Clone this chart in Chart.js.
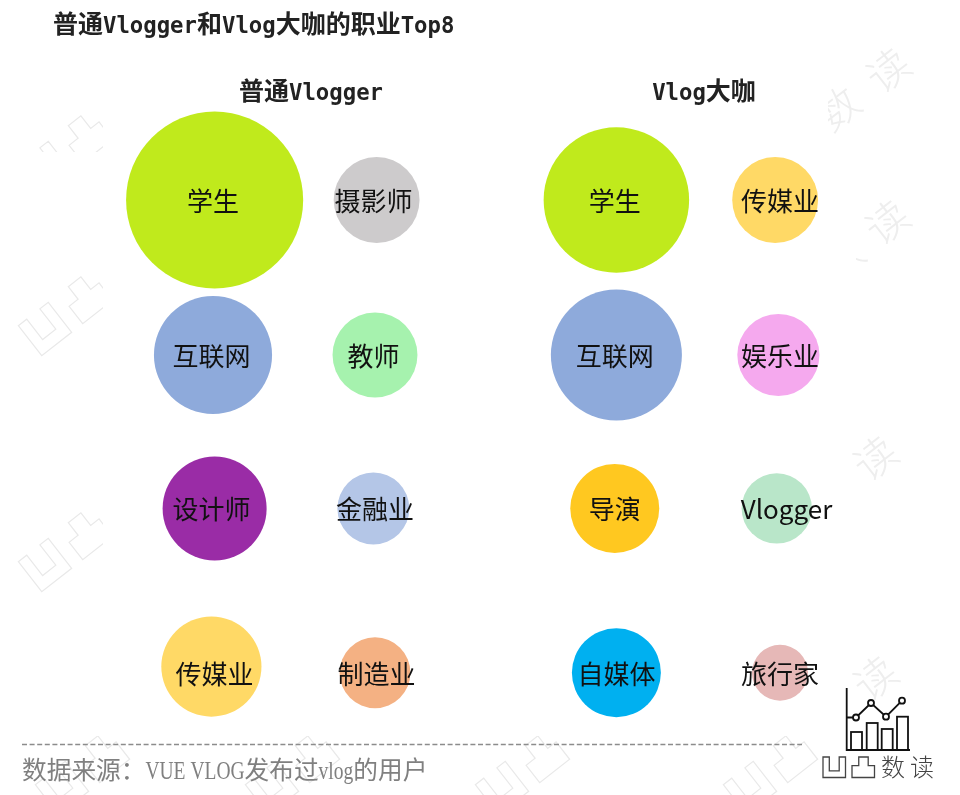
<!DOCTYPE html>
<html>
<head>
<meta charset="utf-8">
<title>普通Vlogger和Vlog大咖的职业Top8</title>
<style>
  html, body { margin: 0; padding: 0; background: #fff; }
  canvas { display: block; }
</style>
<script src="https://cdn.jsdelivr.net/npm/chart.js@4/dist/chart.umd.min.js"></script>
</head>
<body>
<canvas id="job-chart" width="960" height="795"></canvas>
<script>
const chartTitle = "普通Vlogger和Vlog大咖的职业Top8";
const sourceNote = "数据来源：VUE VLOG发布过vlog的用户";
const groupNames = ["普通Vlogger", "Vlog大咖"];

// occupations, shares and slots (column / row units) for each group
const commonJobs = ["学生", "摄影师", "互联网", "教师", "设计师", "金融业", "传媒业", "制造业"];
const commonShare = [40, 9.4, 17.8, 9.2, 13.8, 6.6, 12.8, 6.4];
const commonCol = [0.01, 1.01, 0, 1, 0.01, 0.99, -0.01, 1];
const commonRow = [0, 0, 1, 1, 1.99, 1.99, 3.01, 3.05];
const commonLabelCol = [0, 0.99, -0.01, 0.99, -0.01, 1, 0.01, 1.01];
const commonLabelRow = [0, 0, 1, 1, 1.99, 1.99, 3.05, 3.05];
const commonColors = ["#c0ea1c", "#cdcbcc", "#8eaadb", "#a6f2ae", "#9a2ca6", "#b4c6e7", "#ffd966", "#f4b183"];

const topJobs = ["学生", "传媒业", "互联网", "娱乐业", "导演", "Vlogger", "自媒体", "旅行家"];
const topShare = [27, 9.4, 21.9, 8.6, 10.1, 6.3, 10.1, 4];
const topCol = [2.49, 3.47, 2.49, 3.49, 2.48, 3.48, 2.49, 3.5];
const topRow = [0, 0, 1, 1, 1.99, 1.99, 3.05, 3.05];
const topLabelCol = [2.48, 3.5, 2.48, 3.5, 2.48, 3.54, 2.49, 3.5];
const topLabelRow = [0, 0, 1, 1, 1.99, 1.99, 3.05, 3.05];
const topColors = ["#c0ea1c", "#ffd966", "#8eaadb", "#f5a9ee", "#ffc820", "#b9e6c9", "#00b0f0", "#e6b8b7"];

const RADIUS_PER_ROOT = 14; // bubble area follows the share

function bubbles(shares, cols, rows) {
  return shares.map((v, i) => ({ x: cols[i], y: rows[i], r: Math.sqrt(v) * RADIUS_PER_ROOT }));
}

// CJK and Latin runs use different fonts, latinStretch squeezes the Latin ones sideways
function drawMixed(ctx, text, x, y, cjkFont, latinFont, center, latinStretch = 1) {
  const runs = text.match(/[\x00-\x7f]+|[^\x00-\x7f]+/g);
  const isLatin = r => r.charCodeAt(0) < 128;
  const widthOf = r => {
    ctx.font = isLatin(r) ? latinFont : cjkFont;
    return ctx.measureText(r).width * (isLatin(r) ? latinStretch : 1);
  };
  let pos = center ? x - runs.reduce((sum, r) => sum + widthOf(r), 0) / 2 : x;
  ctx.textAlign = "left";
  runs.forEach(r => {
    const w = widthOf(r);
    ctx.save();
    ctx.translate(pos, y);
    if (isLatin(r)) ctx.scale(latinStretch, 1);
    ctx.fillText(r, 0, 0);
    ctx.restore();
    pos += w;
  });
}

function outline(ctx, pts) {
  ctx.beginPath();
  pts.forEach((p, i) => (i ? ctx.lineTo(p[0], p[1]) : ctx.moveTo(p[0], p[1])));
  ctx.closePath();
  ctx.stroke();
}
// the two outlined brand glyphs, in a box of width w and height h
function brandGlyphs(ctx, x, y, w, h, gap) {
  const ao = [[0, 0], [.28, 0], [.28, .68], [.72, .68], [.72, 0], [1, 0], [1, 1], [0, 1]];
  const tu = [[.3, 0], [.72, 0], [.72, .42], [1, .42], [1, 1], [0, 1], [0, .42], [.3, .42]];
  outline(ctx, ao.map(p => [x + p[0] * w, y + p[1] * h]));
  outline(ctx, tu.map(p => [x + w + gap + p[0] * w, y + p[1] * h]));
}

// faint tilted brand stamps behind the bubbles: x, y and the clip box left, top, right, bottom
const backdrop = {
  id: "backdrop",
  beforeDatasetsDraw(chart) {
    const ctx = chart.ctx;
    const tilt = -38 * Math.PI / 180;
    const glyphMarks = [
      [45, 168, 0, 90, 103, 152], [45, 329, 0, 160, 103, 795], [45, 565, 0, 160, 103, 795],
      [62, 788, 0, 736, 960, 795], [272, 788, 0, 736, 960, 795],
      [502, 788, 0, 736, 960, 795], [750, 788, 0, 736, 960, 795]
    ];
    const charMarks = [
      ["读", 888, 70, 0, 0, 960, 795], ["读", 887, 222, 0, 0, 960, 795],
      ["读", 875, 458, 0, 0, 960, 795], ["读", 875, 678, 0, 0, 960, 795],
      ["数", 838, 108, 828, 0, 960, 795], ["数", 842, 258, 856, 0, 960, 795]
    ];
    ctx.save();
    ctx.strokeStyle = "#e9e9e9";
    ctx.lineWidth = 1.2;
    glyphMarks.forEach(m => {
      ctx.save();
      ctx.beginPath();
      ctx.rect(m[2], m[3], m[4] - m[2], m[5] - m[3]);
      ctx.clip();
      ctx.translate(m[0], m[1]);
      ctx.rotate(tilt);
      brandGlyphs(ctx, -19, -19, 38, 38, 14);
      ctx.restore();
    });
    ctx.fillStyle = "#eeeeee";
    ctx.font = '300 42px "Noto Sans CJK SC"';
    ctx.textAlign = "center";
    ctx.textBaseline = "middle";
    charMarks.forEach(m => {
      ctx.save();
      ctx.beginPath();
      ctx.rect(m[3], m[4], m[5] - m[3], m[6] - m[4]);
      ctx.clip();
      ctx.translate(m[1], m[2]);
      ctx.rotate(tilt);
      ctx.fillText(m[0], 0, 0);
      ctx.restore();
    });
    ctx.restore();
  }
};

const pageText = {
  id: "pageText",
  afterDatasetsDraw(chart) {
    const ctx = chart.ctx;
    const xs = chart.scales.x, ys = chart.scales.y;
    const headCjk = 'bold 25px "Noto Sans CJK SC"';
    const headLatin = 'bold 22.3px "DejaVu Sans Mono"';
    ctx.save();
    ctx.textBaseline = "alphabetic";
    ctx.fillStyle = "#222";
    drawMixed(ctx, chartTitle, 53, 33, headCjk, headLatin, false);
    drawMixed(ctx, groupNames[0], 311, 100, headCjk, headLatin, true);
    drawMixed(ctx, groupNames[1], 704, 100, headCjk, headLatin, true);

    // occupation names on top of the bubbles
    ctx.fillStyle = "#111";
    ctx.font = '26px "Noto Sans CJK SC"';
    ctx.textAlign = "center";
    ctx.textBaseline = "middle";
    [[commonJobs, commonLabelCol, commonLabelRow], [topJobs, topLabelCol, topLabelRow]].forEach(g => {
      g[0].forEach((name, i) => {
        ctx.fillText(name, xs.getPixelForValue(g[1][i]), ys.getPixelForValue(g[2][i]) + 1);
      });
    });

    // footer rule and source
    ctx.strokeStyle = "#8c8c8c";
    ctx.lineWidth = 1.5;
    ctx.setLineDash([5, 2.6]);
    ctx.beginPath();
    ctx.moveTo(22, 744.5);
    ctx.lineTo(802, 744.5);
    ctx.stroke();
    ctx.setLineDash([]);
    ctx.textBaseline = "alphabetic";
    ctx.fillStyle = "#808080";
    drawMixed(ctx, sourceNote, 22, 779, '24.7px "Noto Sans CJK SC"', '25px "Liberation Serif"', false, 0.78);

    // brand mark, bottom right
    ctx.strokeStyle = "#111";
    ctx.fillStyle = "#fff";
    ctx.lineWidth = 1.8;
    ctx.beginPath();
    ctx.moveTo(846.7, 688);
    ctx.lineTo(846.7, 750);
    ctx.lineTo(910, 750);
    ctx.stroke();
    [[851, 732, 11], [866.7, 723, 11], [881.7, 729, 11], [897, 716.7, 11]].forEach(b => {
      ctx.strokeRect(b[0], b[1], b[2], 750 - b[1]);
    });
    const trend = [[846.7, 717.5], [856, 717.5], [871, 703], [886, 716.7], [902, 700.7]];
    ctx.beginPath();
    trend.forEach((p, i) => (i ? ctx.lineTo(p[0], p[1]) : ctx.moveTo(p[0], p[1])));
    ctx.stroke();
    trend.slice(1).forEach(p => {
      ctx.beginPath();
      ctx.arc(p[0], p[1], 3, 0, Math.PI * 2);
      ctx.fill();
      ctx.stroke();
    });
    ctx.strokeStyle = "#444";
    ctx.lineWidth = 1.3;
    brandGlyphs(ctx, 823, 757, 22.5, 20.5, 6.5);
    ctx.fillStyle = "#444";
    ctx.font = '300 24px "Noto Sans CJK SC"';
    ctx.textAlign = "left";
    ctx.fillText("数", 881, 776);
    ctx.fillText("读", 910, 776);
    ctx.restore();
  }
};

new Chart("job-chart", {
  type: "bubble",
  data: {
    datasets: [
      { label: groupNames[0], data: bubbles(commonShare, commonCol, commonRow), backgroundColor: commonColors, borderWidth: 0 },
      { label: groupNames[1], data: bubbles(topShare, topCol, topRow), backgroundColor: topColors, borderWidth: 0 }
    ]
  },
  options: {
    responsive: false,
    animation: false,
    events: [],
    layout: { padding: 0, autoPadding: false },
    plugins: { legend: { display: false }, title: { display: false }, tooltip: { enabled: false } },
    scales: {
      // one column is 162px wide, one row is 155px high
      x: { type: "linear", display: false, min: -213 / 162, max: 747 / 162 },
      y: { type: "linear", display: false, reverse: true, min: -200 / 155, max: 595 / 155 }
    }
  },
  plugins: [backdrop, pageText]
});
</script>
</body>
</html>
